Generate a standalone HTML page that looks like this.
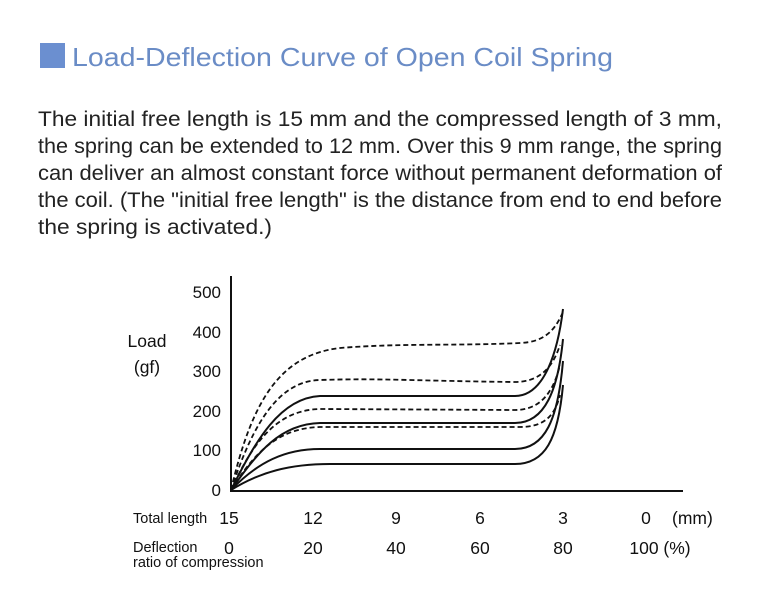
<!DOCTYPE html>
<html><head><meta charset="utf-8"><style>
body{margin:0;background:#fff;width:768px;height:613px;overflow:hidden;font-family:"Liberation Sans",sans-serif}
</style></head><body>
<svg width="768" height="613" viewBox="0 0 768 613" xmlns="http://www.w3.org/2000/svg" style="position:absolute;left:0;top:0">
<rect x="40" y="43" width="25" height="25" fill="#6b8fd0"/>
<text x="72" y="66" font-size="26" fill="#6a8cc6" textLength="541" lengthAdjust="spacingAndGlyphs" font-family="Liberation Sans,sans-serif">Load-Deflection Curve of Open Coil Spring</text>
<g font-size="21" fill="#222" font-family="Liberation Sans,sans-serif">
<text x="38" y="126" textLength="684" lengthAdjust="spacingAndGlyphs">The initial free length is 15 mm and the compressed length of 3 mm,</text>
<text x="38" y="153" textLength="684" lengthAdjust="spacingAndGlyphs">the spring can be extended to 12 mm. Over this 9 mm range, the spring</text>
<text x="38" y="180" textLength="684" lengthAdjust="spacingAndGlyphs">can deliver an almost constant force without permanent deformation of</text>
<text x="38" y="207" textLength="684" lengthAdjust="spacingAndGlyphs">the coil. (The "initial free length" is the distance from end to end before</text>
<text x="38" y="234" textLength="234" lengthAdjust="spacingAndGlyphs">the spring is activated.)</text>
</g>
<g stroke="#111" stroke-width="2" fill="none">
<line x1="231" y1="276" x2="231" y2="491"/>
<line x1="230" y1="491" x2="683" y2="491"/>
</g>
<g font-size="17" fill="#111" text-anchor="end" font-family="Liberation Sans,sans-serif">
<text x="221" y="298">500</text><text x="221" y="338">400</text><text x="221" y="377">300</text>
<text x="221" y="417">200</text><text x="221" y="456">100</text><text x="221" y="496">0</text>
</g>
<g font-size="17.5" fill="#111" text-anchor="middle" font-family="Liberation Sans,sans-serif">
<text x="147" y="347">Load</text><text x="147" y="373">(gf)</text>
</g>
<g stroke="#111" stroke-width="2" fill="none">
<path d="M231 490 C260 472 290 464 330 464 L515 464 C545 464 558 440 563 385"/>
<path d="M231 490 C258 462 285 449 320 449 L515 449 C545 449 558 420 563 361"/>
<path d="M231 490 C258 452 280 424 320 423 L515 423 C545 423 558 390 563 339"/>
<path d="M231 490 C256 440 280 398 320 396 L515 396 C545 396 558 350 563 309"/>
</g>
<g stroke="#111" stroke-width="1.8" fill="none" stroke-dasharray="5,3">
<path d="M231 490 C256 450 280 428 320 427 L520 427 C545 427 555 415 560 395"/>
<path d="M231 490 C254 440 278 410 320 409 L515 410 C545 410 555 385 560 365"/>
<path d="M231 490 C254 420 280 381 320 380 C380 378 420 381 515 382 C545 382 555 360 560 345"/>
<path d="M231 490 C252 400 280 355 340 348 C400 343 460 346 520 343 C545 342 555 330 563 312"/>
</g>
<g font-size="17.5" fill="#111" text-anchor="middle" font-family="Liberation Sans,sans-serif">
<text x="229" y="524">15</text><text x="313" y="524">12</text><text x="396" y="524">9</text>
<text x="480" y="524">6</text><text x="563" y="524">3</text><text x="646" y="524">0</text>
<text x="229" y="554">0</text><text x="313" y="554">20</text><text x="396" y="554">40</text>
<text x="480" y="554">60</text><text x="563" y="554">80</text><text x="660" y="554">100 (%)</text>
</g>
<g font-size="14.5" fill="#111" font-family="Liberation Sans,sans-serif">
<text x="133" y="523">Total length</text>
<text x="133" y="552">Deflection</text>
<text x="133" y="567">ratio of compression</text>
<text x="672" y="524" font-size="17.5">(mm)</text>
</g>
</svg>
</body></html>
